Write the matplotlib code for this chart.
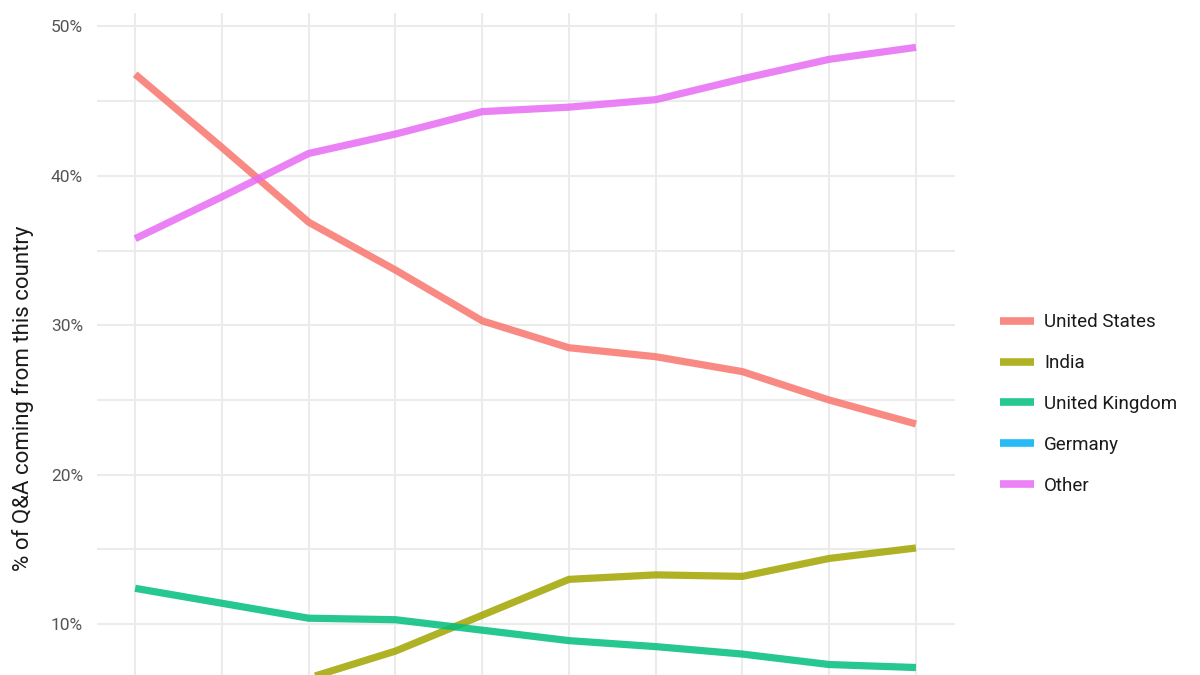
import matplotlib
matplotlib.use("Agg")
import matplotlib.pyplot as plt
from matplotlib.ticker import FuncFormatter, MultipleLocator

plt.rcParams['font.family'] = ['Roboto', 'DejaVu Sans']

years = [2008, 2009, 2010, 2011, 2012, 2013, 2014, 2015, 2016, 2017]
countries = ["United States", "India", "United Kingdom", "Germany", "Other"]
colors = ["#F8766D", "#A3A500", "#00BF7D", "#00B0F6", "#E76BF3"]

united_states = [46.8, 41.9, 36.9, 33.7, 30.3, 28.5, 27.9, 26.9, 25.0, 23.4]
india = [4.2, 5.2, 6.4, 8.2, 10.6, 13.0, 13.3, 13.2, 14.4, 15.1]
united_kingdom = [12.4, 11.4, 10.4, 10.3, 9.6, 8.9, 8.5, 8.0, 7.3, 7.1]
germany = [4.6, 4.7, 4.6, 4.5, 4.4, 4.3, 4.2, 4.1, 4.0, 3.9]
other = [35.8, 38.6, 41.5, 42.8, 44.3, 44.6, 45.1, 46.5, 47.8, 48.6]

series = [united_states, india, united_kingdom, germany, other]

fig = plt.figure(figsize=(12, 6.75), dpi=100)
ax = fig.add_axes([97 / 1200, 0, (955 - 97) / 1200, 1 - 13 / 675])

for name, vals, col in zip(countries, series, colors):
    ax.plot(years, vals, color=col, lw=5.2, alpha=0.85, label=name,
            solid_capstyle='butt', zorder=3)

ax.set_xlim(years[0] - 0.44, years[-1] + 0.45)
ax.set_ylim(6.6, 50.9)
ax.set_xticks(years)
ax.xaxis.set_major_formatter(FuncFormatter(lambda v, p: ""))
ax.yaxis.set_major_locator(MultipleLocator(10))
ax.yaxis.set_minor_locator(MultipleLocator(5))
ax.yaxis.set_major_formatter(FuncFormatter(lambda v, p: f"{v:.0f}%"))
ax.grid(True, which='both', color='#EBEBEB', lw=1.5, zorder=0)
ax.tick_params(axis='both', which='both', length=0)
ax.tick_params(axis='y', labelsize=12.5, labelcolor='#555555', pad=10)
for s in ax.spines.values():
    s.set_visible(False)

ax.set_ylabel("% of Q&A coming from this country", fontsize=16, color='#1A1A1A',
              labelpad=10)
ax.yaxis.set_label_coords(-0.074, 0.418)

leg = fig.legend(loc='center left', bbox_to_anchor=(1000 / 1200, 1 - 404 / 675),
                 frameon=False, fontsize=13.5, handlelength=1.8, handletextpad=0.55,
                 labelspacing=1.22, borderpad=0, borderaxespad=0)
for line in leg.get_lines():
    line.set_linewidth(5.5)
for t in leg.get_texts():
    t.set_color('#1A1A1A')

fig.savefig("out.png", dpi=100, facecolor='white')
